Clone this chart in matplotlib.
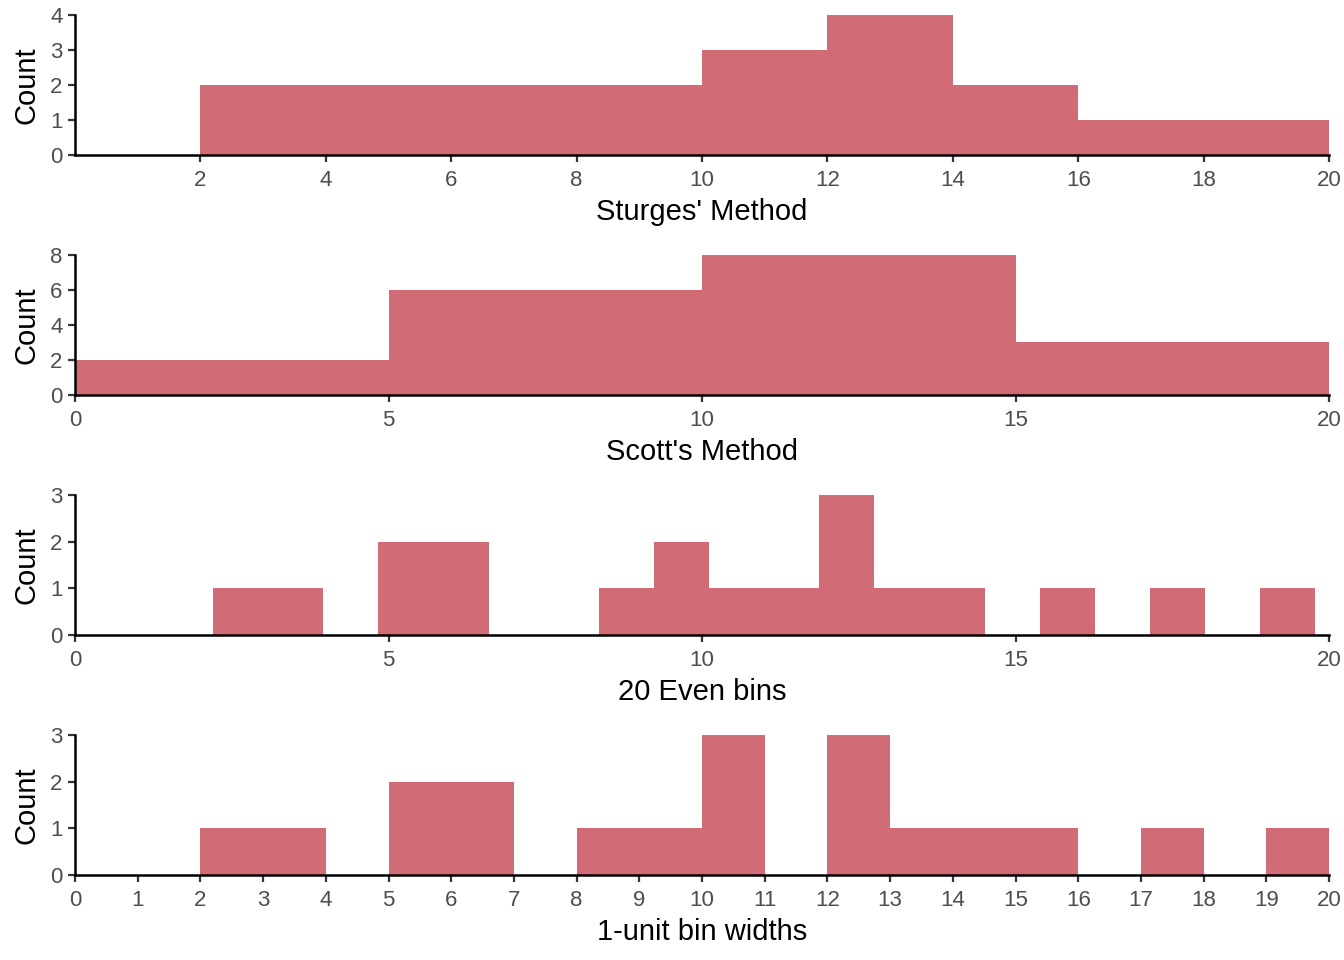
import numpy as np
import matplotlib
matplotlib.use("Agg")
import matplotlib.pyplot as plt

plt.rcParams["font.family"] = ["Liberation Sans", "DejaVu Sans"]

# observations (read back from the bar heights of all four panels)
values = [2.5, 3.5, 5.1, 5.5, 6.0, 6.4, 8.7, 9.6, 10.05, 10.5, 10.995,
          12.1, 12.3, 12.5, 13.3, 14.2, 15.8, 17.5, 19.5]

sturges_edges = list(range(2, 21, 2))
scott_edges = [0, 5, 10, 15, 20]
even_lo, even_hi, even_n = 2.2, 19.78, 20
unit_edges = list(range(0, 21))

titles = ["Sturges' Method", "Scott's Method", "20 Even bins", "1-unit bin widths"]
ylims = [4, 8, 3, 3]
yticks = [[0, 1, 2, 3, 4], [0, 2, 4, 6, 8], [0, 1, 2, 3], [0, 1, 2, 3]]
xticks = [list(range(2, 21, 2)), [0, 5, 10, 15, 20], [0, 5, 10, 15, 20], list(range(0, 21))]

bar_color = "#D16B76"
tick_color = "#4D4D4D"

W, H = 1344, 960
fig = plt.figure(figsize=(W / 100, H / 100), dpi=100)

bins_list = [sturges_edges, scott_edges,
             np.linspace(even_lo, even_hi, even_n + 1), unit_edges]

for i, bins in enumerate(bins_list):
    top = 15 + 240 * i
    ax = fig.add_axes([75 / W, 1 - (top + 140) / H, (1329 - 75) / W, 140 / H])
    ax.hist(values, bins=bins, color=bar_color, edgecolor="none")
    ax.set_xlim(0, 20)
    ax.set_ylim(0, ylims[i])
    ax.set_xticks(xticks[i])
    ax.set_yticks(yticks[i])
    for side in ("top", "right"):
        ax.spines[side].set_visible(False)
    for side in ("left", "bottom"):
        ax.spines[side].set_linewidth(1.8)
        ax.spines[side].set_color("black")
        ax.spines[side].set_zorder(3)
    ax.tick_params(length=5, width=1.6, color="#333333", labelcolor=tick_color,
                   labelsize=16, pad=4)
    ax.tick_params(axis="x", pad=6)
    ax.set_xlabel(titles[i], fontsize=21, labelpad=5)
    ax.set_ylabel("Count", fontsize=21, labelpad=7)

fig.savefig("out.png", dpi=100)
